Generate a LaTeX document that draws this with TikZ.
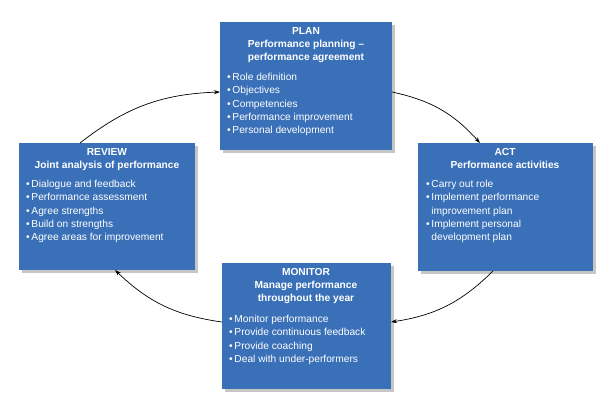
\documentclass[tikz,border=0pt]{standalone}
\usepackage{fontspec}
\setmainfont{Liberation Sans}
\usetikzlibrary{shadows,arrows.meta}
\definecolor{boxblue}{HTML}{3A70B8}
\begin{document}
\begin{tikzpicture}[x=1pt,y=-1pt,
  box/.style={draw=none,fill=boxblue,drop shadow={shadow xshift=3pt,shadow yshift=-3pt,opacity=0.45}},
  txt/.style={anchor=north,text=white,font=\fontsize{10.2}{13.3}\selectfont,align=left,inner sep=0},
  hd/.style={txt,align=center,font=\fontsize{10.2}{13.3}\selectfont\bfseries},
  arr/.style={-{Stealth[length=6pt,width=4pt]},black,line width=0.7pt}]
\useasboundingbox (0,0) rectangle (615,413);
\newcommand{\bl}{\textbullet\,}
\path[box] (220,22) rectangle (392,150);
\coordinate (planL) at (220,92); \coordinate (planR) at (392,92);
\path[box] (418,143) rectangle (593,271);
\coordinate (actT) at (480,143); \coordinate (actB) at (493,271);
\path[box] (222,263) rectangle (391,389);
\coordinate (monR) at (391,322); \coordinate (monL) at (222,322);
\path[box] (19,143) rectangle (195,270);
\coordinate (revB) at (115,270); \coordinate (revT) at (80,143);

\node[hd] (planH) at (306,27) {PLAN\\Performance planning --\\performance agreement};
\node[txt,anchor=north west] (planB) at (227,73) {\bl Role definition\\\bl Objectives\\\bl Competencies\\\bl Performance improvement\\\bl Personal development};

\node[hd] (actH) at (505,148) {ACT\\Performance activities};
\node[txt,anchor=north west] (actB2) at (426,180) {\bl Carry out role\\\bl Implement performance\\\phantom{\bl}improvement plan\\\bl Implement personal\\\phantom{\bl}development plan};

\node[hd] (monH) at (306,268) {MONITOR\\Manage performance\\throughout the year};
\node[txt,anchor=north west] (monB) at (229,315) {\bl Monitor performance\\\bl Provide continuous feedback\\\bl Provide coaching\\\bl Deal with under-performers};

\node[hd] (revH) at (107,148) {REVIEW\\Joint analysis of performance};
\node[txt,anchor=north west] (revB2) at (26,180) {\bl Dialogue and feedback\\\bl Performance assessment\\\bl Agree strengths\\\bl Build on strengths\\\bl Agree areas for improvement};

\draw[arr] (planR) to[bend left=18] (actT);
\draw[arr] (actB) to[bend left=18] (monR);
\draw[arr] (monL) to[bend left=18] (revB);
\draw[arr] (revT) to[bend left=18] (planL);
\end{tikzpicture}
\end{document}
